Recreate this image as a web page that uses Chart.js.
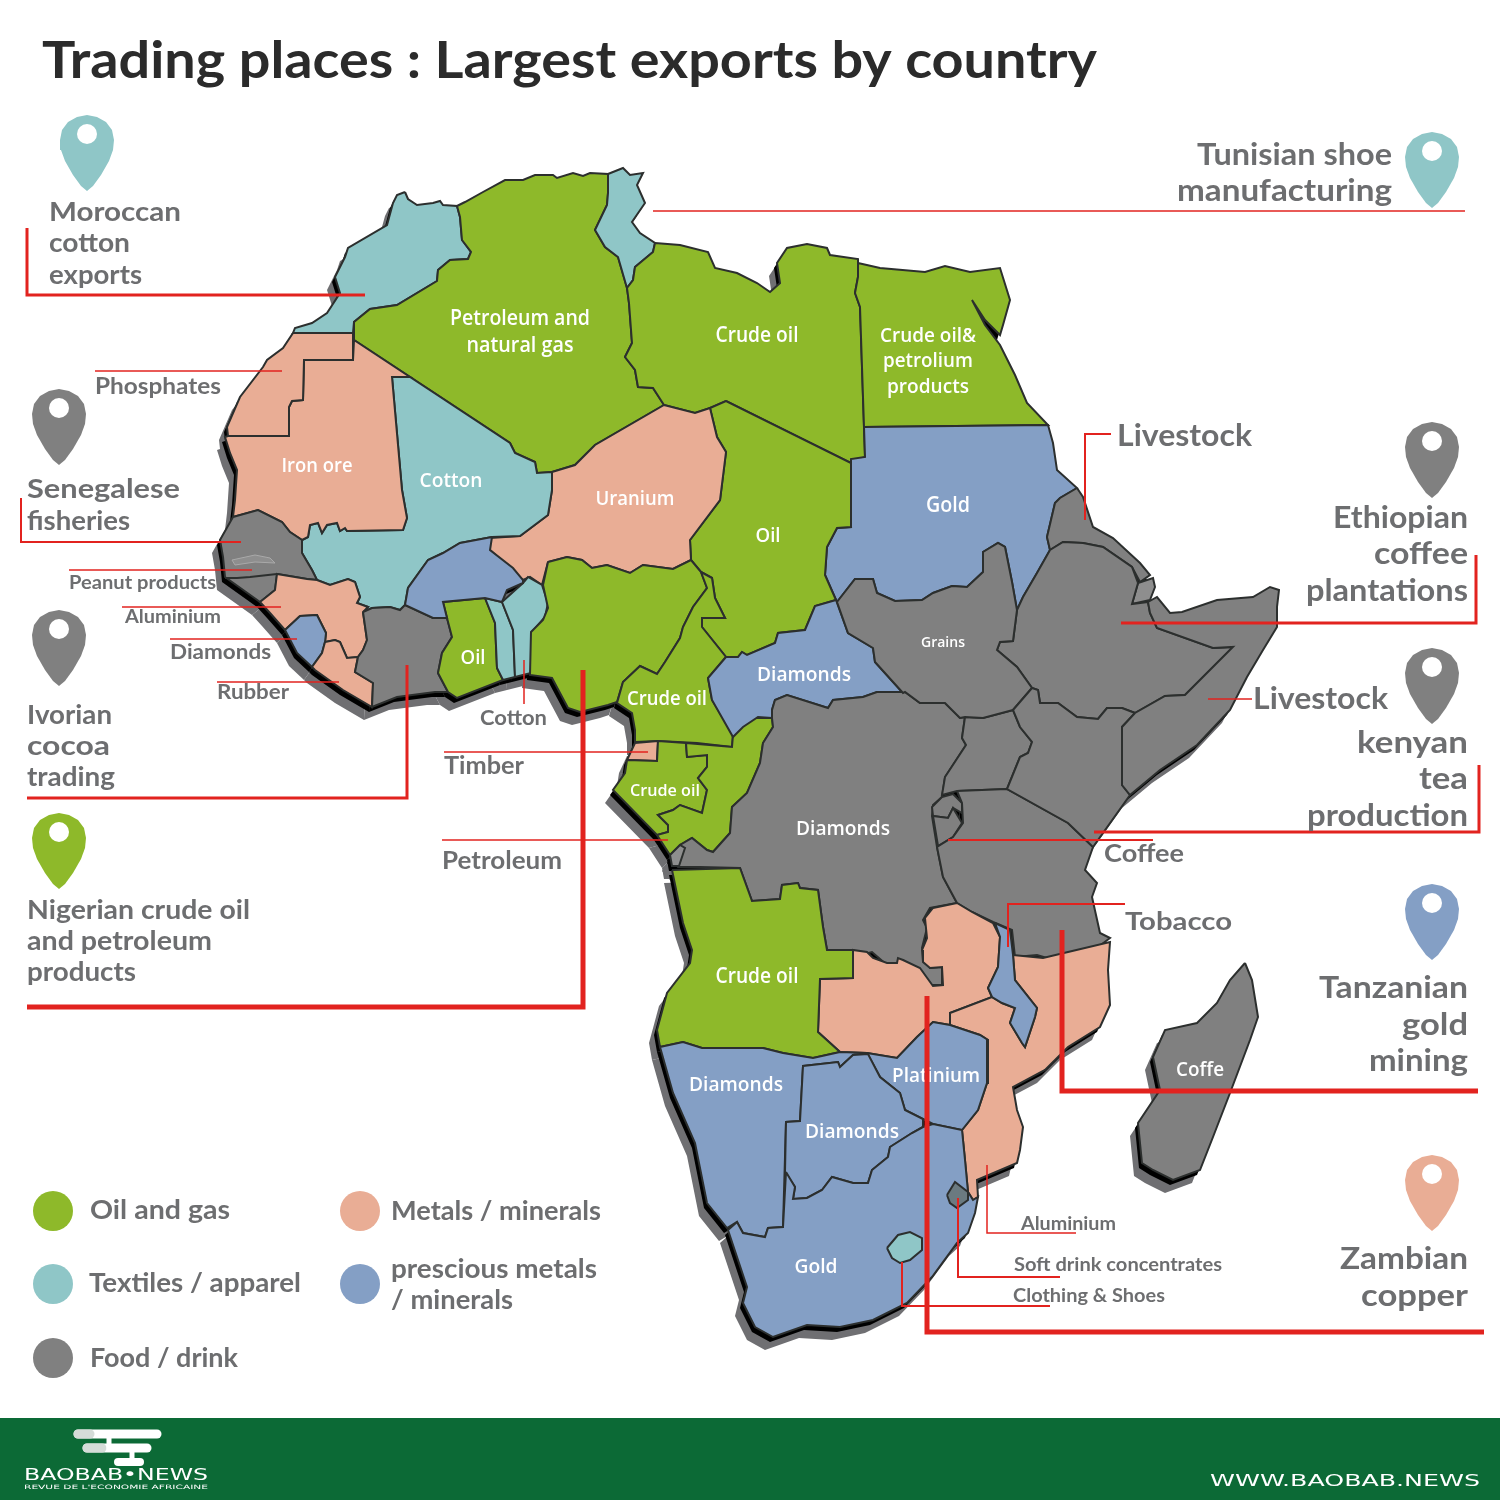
<!DOCTYPE html>
<html>
<head>
<meta charset="utf-8">
<title>Trading places</title>
<script src="https://cdn.jsdelivr.net/npm/chart.js@4"></script>
<style>
  html, body { margin: 0; padding: 0; background: #fff; }
  canvas { display: block; }
</style>
</head>
<body>
<canvas id="myChart" width="1500" height="1500"></canvas>
<script>
// colours
const OIL = "#8eb92a", TEXTILE = "#8fc6c7", METAL = "#e9ad95", PRECIOUS = "#849fc5", FOOD = "#808080", PALE = "#8e8e8e";
const RED = "#e2231f", GREY_TXT = "#6d6e70", BAND = "#0c6a36", BORDER = "#2c2f2e";

// country outlines
const morocco = [[405,192],[408,199],[417,205],[433,203],[440,201],[443,205],[457,206],[460,217],[462,240],[471,252],[468,259],[450,260],[438,270],[437,281],[397,305],[370,309],[354,322],[353,333],[293,333],[295,328],[312,323],[327,313],[340,293],[335,277],[345,257],[348,248],[387,225],[393,203],[397,195]];
const algeria = [[457,206],[465,202],[483,192],[505,180],[523,180],[535,175],[553,175],[557,178],[573,173],[583,176],[590,173],[608,174],[608,193],[607,205],[595,230],[605,247],[618,257],[627,288],[629,303],[632,343],[625,357],[635,370],[638,387],[653,388],[664,405],[595,445],[575,465],[552,472],[537,473],[535,462],[515,453],[510,443],[354,340],[354,322],[370,309],[397,305],[437,281],[438,270],[450,260],[468,259],[471,252],[462,240],[460,217]];
const tunisia = [[608,174],[623,168],[630,175],[643,173],[637,185],[645,203],[632,222],[640,233],[655,243],[653,252],[635,267],[633,280],[627,288],[618,257],[605,247],[595,230],[607,205],[608,193]];
const libya = [[655,243],[680,245],[708,252],[715,268],[737,273],[757,283],[770,292],[780,283],[777,263],[787,248],[807,244],[827,248],[830,255],[858,259],[858,277],[855,293],[860,307],[865,457],[851,463],[726,401],[710,408],[695,413],[664,405],[653,388],[638,387],[635,370],[625,357],[632,343],[629,303],[627,288],[633,280],[635,267],[653,252]];
const egypt = [[858,263],[880,268],[925,272],[945,266],[970,272],[1000,268],[1010,300],[1003,325],[1000,335],[985,320],[972,300],[985,325],[1000,345],[1015,375],[1027,403],[1048,425],[864,427],[860,307],[855,293],[858,277]];
const sudan = [[864,427],[1048,425],[1053,443],[1057,470],[1077,488],[1060,498],[1055,503],[1047,537],[1050,550],[1037,573],[1023,597],[1017,610],[1012,582],[1005,547],[998,543],[983,552],[983,572],[967,587],[952,586],[933,593],[922,600],[895,601],[877,593],[873,579],[855,579],[837,602],[825,575],[827,547],[837,528],[852,527],[851,459],[865,457]];
const chad = [[726,401],[851,463],[851,527],[837,528],[827,547],[825,575],[836,600],[815,606],[805,630],[778,633],[775,643],[747,655],[742,652],[738,657],[726,657],[702,627],[702,618],[725,618],[715,598],[712,578],[701,572],[691,560],[690,540],[720,500],[726,452],[717,437],[710,408]];
const niger = [[664,405],[695,413],[710,408],[717,437],[726,452],[720,500],[690,540],[691,560],[673,569],[643,565],[630,573],[607,565],[592,568],[582,560],[567,557],[548,562],[542,585],[530,577],[523,580],[490,550],[490,538],[520,536],[548,515],[552,490],[552,472],[575,465],[595,445]];
const mali = [[392,377],[410,377],[510,443],[515,453],[535,462],[537,473],[552,472],[552,490],[548,515],[520,536],[492,537],[460,543],[443,553],[428,560],[408,588],[405,605],[400,610],[390,607],[372,608],[363,612],[368,607],[357,603],[360,597],[355,582],[348,579],[330,585],[317,580],[312,570],[302,553],[302,540],[308,537],[310,525],[318,523],[322,533],[327,525],[337,523],[340,531],[345,528],[347,531],[403,530],[407,518],[402,490]];
const mauritania = [[228,436],[289,436],[289,407],[292,401],[303,400],[304,360],[353,360],[354,340],[410,377],[392,377],[402,490],[407,518],[403,530],[347,531],[345,528],[340,531],[337,523],[327,525],[322,533],[318,523],[310,525],[308,537],[302,540],[290,532],[282,522],[258,510],[233,517],[235,500],[237,470],[230,453],[225,437]];
const wSahara = [[293,333],[353,333],[353,360],[304,360],[303,400],[292,401],[289,407],[289,436],[228,436],[227,427],[240,397],[263,367],[267,360],[283,348]];
const senegal = [[233,517],[258,510],[282,522],[290,532],[302,540],[302,553],[312,570],[317,580],[307,579],[277,574],[275,590],[260,602],[253,597],[225,577],[223,557],[220,540]];
const gambia = [[232,560],[255,555],[270,558],[275,563],[255,562],[235,565]];
const guinea = [[277,574],[307,579],[317,580],[330,585],[348,579],[355,582],[360,597],[357,603],[368,607],[363,612],[367,640],[363,650],[358,657],[347,658],[340,642],[335,640],[325,642],[326,633],[317,615],[300,616],[285,630],[270,613],[260,602],[275,590]];
const sierraLeone = [[300,616],[317,615],[326,633],[325,642],[322,653],[312,667],[297,653],[285,630]];
const liberia = [[325,642],[335,640],[340,642],[347,658],[358,657],[355,672],[373,683],[372,707],[343,690],[315,670],[312,667],[322,653]];
const ivoryCoast = [[363,612],[372,608],[390,607],[400,610],[405,605],[433,618],[447,618],[452,637],[442,653],[438,673],[448,692],[435,692],[397,697],[372,707],[373,683],[355,672],[358,657],[363,650],[367,640]];
const ghana = [[443,602],[485,598],[495,623],[497,668],[503,680],[457,698],[448,692],[438,673],[442,653],[452,637],[447,618]];
const togo = [[485,598],[502,602],[513,630],[515,677],[503,680],[497,668],[495,623]];
const benin = [[502,602],[523,583],[528,577],[542,585],[548,603],[545,617],[532,632],[531,673],[515,677],[513,630]];
const burkina = [[492,537],[490,550],[513,568],[523,580],[523,583],[507,590],[502,602],[485,598],[443,602],[447,618],[433,618],[405,605],[408,588],[428,560],[443,553],[460,543]];
const nigeria = [[548,562],[567,557],[582,560],[592,568],[607,565],[630,573],[643,565],[673,569],[691,560],[701,572],[707,588],[693,607],[683,627],[680,638],[665,662],[657,674],[640,666],[623,682],[617,702],[608,705],[580,712],[568,708],[552,678],[530,675],[531,632],[543,620],[548,608],[543,585]];
const cameroon = [[701,572],[712,578],[715,598],[725,618],[702,618],[702,627],[726,657],[708,678],[712,700],[733,735],[732,747],[697,743],[658,741],[635,742],[635,730],[632,713],[617,703],[623,682],[640,666],[657,674],[665,662],[680,638],[683,627],[693,607],[707,588]];
const eqGuinea = [[658,741],[657,761],[627,760],[635,743]];
const gabon = [[627,760],[657,761],[658,741],[686,743],[687,757],[707,755],[707,767],[698,778],[707,790],[702,813],[680,805],[673,810],[658,815],[668,825],[668,832],[657,835],[613,790],[625,773]];
const congo = [[686,743],[732,747],[733,735],[747,718],[772,718],[773,727],[763,743],[760,763],[747,793],[732,807],[730,833],[713,852],[707,850],[692,838],[680,845],[670,855],[657,835],[668,832],[668,825],[658,815],[673,810],[680,805],[702,813],[707,790],[698,778],[707,767],[707,755],[687,757]];
const car = [[726,657],[738,657],[742,652],[747,655],[775,643],[778,633],[805,630],[815,606],[836,600],[848,633],[873,648],[875,662],[903,693],[877,692],[863,697],[833,700],[828,708],[787,695],[775,700],[772,710],[772,718],[758,717],[743,727],[733,737],[712,700],[708,678]];
const drc = [[772,718],[772,710],[775,700],[787,695],[828,708],[833,700],[863,697],[877,692],[905,692],[920,703],[945,703],[960,718],[965,717],[962,738],[966,745],[945,777],[942,797],[933,805],[932,816],[937,847],[943,877],[957,903],[930,908],[923,920],[927,928],[922,948],[930,968],[942,967],[942,985],[930,985],[917,972],[903,960],[897,965],[887,965],[872,952],[860,955],[853,950],[827,950],[823,927],[818,890],[800,888],[798,883],[782,885],[780,899],[752,901],[740,868],[700,867],[678,867],[670,858],[680,845],[692,838],[707,850],[713,852],[730,833],[732,807],[747,793],[760,763],[763,743],[773,727]];
const cabinda = [[670,855],[680,845],[685,848],[679,866],[672,866]];
const uganda = [[965,717],[983,718],[1013,710],[1020,727],[1032,742],[1028,753],[1020,757],[1007,789],[957,791],[942,795],[945,777],[966,745],[962,738]];
const rwanda = [[942,797],[953,794],[962,803],[962,813],[953,808],[948,818],[933,816],[932,807]];
const burundi = [[933,816],[948,818],[953,808],[962,823],[953,837],[938,846]];
const tanzania = [[957,791],[1007,789],[1068,823],[1093,847],[1085,870],[1097,883],[1092,897],[1100,933],[1110,938],[1098,947],[1067,957],[1047,958],[1037,955],[1015,957],[1012,930],[993,922],[972,912],[957,903],[943,877],[937,847],[953,837],[963,823],[962,803]];
const zambia = [[957,903],[933,908],[925,918],[927,938],[922,950],[923,962],[930,968],[942,967],[943,985],[933,986],[920,968],[903,960],[898,958],[897,963],[887,963],[873,958],[867,952],[853,950],[853,978],[820,979],[818,1032],[840,1052],[867,1053],[897,1058],[917,1037],[933,1022],[950,1025],[950,1013],[992,997],[988,988],[998,967],[1000,937],[993,923],[972,912]];
const malawi = [[995,923],[1010,930],[1013,955],[1015,980],[1037,1008],[1035,1017],[1025,1047],[1022,1043],[1010,1023],[1015,1008],[1002,1003],[992,997],[988,988],[998,967],[1000,937]];
const mozambique = [[1013,955],[1043,958],[1068,952],[1110,942],[1108,970],[1110,1005],[1100,1027],[1068,1047],[1045,1070],[1013,1087],[1017,1110],[1023,1127],[1020,1150],[1017,1163],[977,1180],[978,1197],[973,1200],[968,1192],[965,1160],[962,1130],[978,1110],[987,1083],[988,1040],[980,1035],[950,1025],[950,1013],[992,997],[1002,1003],[1015,1008],[1010,1023],[1022,1043],[1025,1047],[1035,1017],[1037,1008],[1015,980]];
const zimbabwe = [[867,1053],[897,1058],[917,1037],[933,1022],[950,1025],[980,1035],[988,1040],[987,1083],[978,1110],[962,1130],[933,1124],[923,1119],[905,1110],[900,1093],[880,1077]];
const angola = [[672,870],[740,868],[752,901],[780,899],[782,885],[798,883],[800,888],[818,890],[823,927],[827,950],[853,950],[853,978],[820,979],[818,1032],[840,1052],[813,1058],[783,1053],[763,1048],[702,1048],[683,1042],[660,1047],[657,1030],[667,993],[690,963],[692,950],[683,923]];
const namibia = [[660,1047],[683,1042],[702,1048],[763,1048],[783,1053],[813,1058],[840,1052],[867,1053],[853,1055],[840,1067],[838,1062],[803,1066],[800,1121],[786,1122],[783,1227],[768,1228],[765,1237],[743,1233],[737,1222],[727,1228],[707,1203],[695,1143],[673,1093]];
const botswana = [[803,1066],[838,1062],[840,1067],[853,1055],[868,1054],[880,1077],[900,1093],[905,1110],[923,1119],[923,1127],[912,1133],[890,1147],[888,1157],[872,1170],[868,1183],[853,1183],[832,1177],[822,1190],[807,1198],[793,1199],[795,1187],[785,1172],[786,1122],[800,1121]];
const southAfrica = [[786,1172],[795,1187],[793,1199],[807,1198],[822,1190],[832,1177],[853,1183],[868,1183],[872,1170],[888,1157],[890,1147],[912,1133],[923,1127],[933,1124],[962,1130],[965,1160],[968,1192],[973,1200],[978,1197],[975,1213],[968,1233],[957,1243],[932,1277],[907,1303],[873,1320],[840,1327],[807,1325],[773,1337],[755,1327],[743,1303],[747,1287],[728,1230],[737,1222],[743,1233],[765,1237],[768,1228],[783,1227]];
const swaziland = [[947,1195],[955,1182],[968,1192],[968,1200],[957,1208],[950,1203]];
const lesotho = [[887,1248],[898,1235],[910,1232],[922,1238],[922,1250],[910,1260],[900,1263],[892,1258]];
const eritrea = [[1077,488],[1083,497],[1093,527],[1113,538],[1140,563],[1150,575],[1140,582],[1132,567],[1103,547],[1083,543],[1063,542],[1050,550],[1047,537],[1055,503],[1060,498]];
const djibouti = [[1138,583],[1153,578],[1155,587],[1150,600],[1132,604]];
const ethiopia = [[1050,550],[1063,542],[1083,543],[1103,547],[1132,567],[1138,583],[1132,604],[1148,602],[1150,613],[1157,628],[1213,648],[1233,647],[1185,695],[1165,696],[1135,713],[1122,708],[1107,708],[1098,719],[1077,717],[1058,703],[1040,703],[1038,690],[1032,688],[1017,667],[997,650],[1000,642],[1013,641],[1017,610],[1023,597],[1037,573]];
const southSudan = [[837,602],[855,579],[873,579],[877,593],[895,601],[922,600],[933,593],[952,586],[967,587],[983,572],[983,552],[998,543],[1005,547],[1012,582],[1017,610],[1013,641],[1000,642],[997,650],[1017,667],[1032,688],[1013,710],[983,718],[965,717],[960,718],[945,703],[920,703],[905,692],[903,693],[875,662],[873,648],[848,633]];
const kenya = [[1032,688],[1038,690],[1040,703],[1058,703],[1077,717],[1098,719],[1107,708],[1122,708],[1135,713],[1122,727],[1122,785],[1130,795],[1093,847],[1068,823],[1007,789],[1020,757],[1028,753],[1032,742],[1020,727],[1013,710]];
const somalia = [[1148,602],[1157,597],[1170,613],[1182,612],[1217,600],[1253,597],[1270,587],[1279,590],[1277,607],[1277,627],[1263,650],[1247,677],[1230,710],[1197,745],[1160,770],[1130,795],[1122,785],[1122,727],[1135,713],[1165,696],[1185,695],[1233,647],[1213,648],[1157,628],[1150,613]];
const madagascar = [[1245,963],[1252,980],[1258,1017],[1250,1040],[1230,1093],[1213,1137],[1200,1170],[1173,1180],[1153,1170],[1142,1163],[1138,1123],[1160,1090],[1153,1057],[1165,1030],[1197,1023],[1217,1003],[1230,980]];
const bissauBorder = [[225,578],[237,578],[250,577],[277,574]];

const regions = [
  [morocco,TEXTILE],[algeria,OIL],[tunisia,TEXTILE],[libya,OIL],[egypt,OIL],[sudan,PRECIOUS],[chad,OIL],[niger,METAL],[mali,TEXTILE],
  [mauritania,METAL],[wSahara,METAL],[senegal,FOOD],[guinea,METAL],[sierraLeone,PRECIOUS],[liberia,METAL],[ivoryCoast,FOOD],
  [ghana,OIL],[togo,TEXTILE],[benin,TEXTILE],[burkina,PRECIOUS],[nigeria,OIL],[cameroon,OIL],[eqGuinea,METAL],[gabon,OIL],[congo,OIL],[car,PRECIOUS],
  [drc,FOOD],[cabinda,PALE],[uganda,FOOD],[rwanda,FOOD],[burundi,FOOD],[tanzania,FOOD],[zambia,METAL],[mozambique,METAL],[malawi,PRECIOUS],[zimbabwe,PRECIOUS],
  [angola,OIL],[namibia,PRECIOUS],[botswana,PRECIOUS],[southAfrica,PRECIOUS],[swaziland,"#6b7a80"],[lesotho,TEXTILE],[eritrea,FOOD],[djibouti,PALE],
  [ethiopia,FOOD],[southSudan,FOOD],[kenya,FOOD],[somalia,FOOD],[madagascar,FOOD]
];

// leader lines
const leaders = [
  [[[27,228],[27,295],[365,295]],3],[[[653,211],[1465,211]],1.5],[[[95,371],[282,371]],1.5],[[[21,498],[21,542],[241,542]],2],
  [[[69,570],[252,570]],1.5],[[[122,607],[281,607]],1.5],[[[170,639],[297,639]],1.5],[[[217,682],[339,682]],1.5],
  [[[27,798],[407,798],[407,665]],3],[[[524,660],[524,704]],1.5],[[[444,752],[648,752]],1.5],[[[442,840],[668,840]],1.5],
  [[[27,1007],[583,1007],[583,670]],5],[[[1111,434],[1085,434],[1085,520]],2],[[[1121,623],[1476,623],[1476,555]],3],[[[1208,699],[1252,699]],1.5],
  [[[1094,832],[1479,832],[1479,765]],3],[[[948,840],[1153,840]],2],[[[1125,904],[1008,904],[1008,947]],2],[[[1062,930],[1062,1091],[1478,1091]],5],
  [[[927,996],[927,1332],[1484,1332]],5],[[[987,1165],[987,1233],[1076,1233]],1.5],[[[958,1198],[958,1277],[1060,1277]],2],[[[902,1262],[902,1306],[1050,1306]],2]
];

// pins and legend
const pinOutline = [[0,0],[10,2],[19,7],[25,15],[27,25],[26,35],[22,46],[14,60],[6,71],[0,76],[-6,71],[-14,60],[-22,46],[-26,35],[-27,25],[-25,15],[-19,7],[-10,2]];
const pins = [[87,115,TEXTILE],[1432,132,TEXTILE],[59,389,FOOD],[1432,422,FOOD],[59,610,FOOD],[1432,648,FOOD],[59,813,OIL],[1432,884,PRECIOUS],[1432,1155,METAL]];
const legendDots = [[53,1211,OIL],[53,1284,TEXTILE],[53,1358,FOOD],[360,1211,METAL],[360,1284,PRECIOUS]];

// logo bars
const band = [[0,1418],[1500,1418],[1500,1500],[0,1500]];
const logoBars = [[[78,1434],[157,1434],"#fff",9],[[78,1434],[90,1434],"#d5dcd8",9],[[87,1448],[147,1448],"#fff",9],[[87,1448],[102,1448],"#d5dcd8",9],[[118,1462],[140,1462],"#fff",8],[[109,1434],[109,1448],"#fff",5],[[132,1448],[132,1462],"#fff",5]];

// text: string, x, y, size, align, width on the picture
const titleText = [["Trading places : Largest exports by country",42,61,52,"left",1055]];
const sideText = [
  ["Moroccan",49,212,27,"left",132],["cotton",49,243,27,"left",81],["exports",49,275,27,"left",93],["Phosphates",95,387,23,"left",126],
  ["Senegalese",27,489,27,"left",153],["fisheries",27,521,27,"left",103],["Peanut products",69,583,19,"left",147],["Aluminium",125,617,19,"left",96],
  ["Diamonds",170,652,21,"left",101],["Rubber",217,693,20,"left",72],["Ivorian",27,715,27,"left",85],["cocoa",27,746,27,"left",83],["trading",27,777,27,"left",88],
  ["Nigerian crude oil",27,910,27,"left",223],["and petroleum",27,941,27,"left",185],["products",27,972,27,"left",109],["Cotton",480,718,21,"left",67],
  ["Timber",444,766,25,"left",80],["Petroleum",442,861,25,"left",120],["Tunisian shoe",1392,155,31,"right",195],["manufacturing",1392,191,31,"right",215],
  ["Livestock",1117,436,31,"left",135],["Ethiopian",1468,518,31,"right",135],["coffee",1468,554,31,"right",94],["plantations",1468,591,31,"right",162],
  ["Livestock",1253,699,31,"left",135],["kenyan",1468,743,31,"right",111],["tea",1468,779,31,"right",49],["production",1468,816,31,"right",161],
  ["Coffee",1104,854,25,"left",80],["Tobacco",1125,922,25,"left",107],["Tanzanian",1468,988,31,"right",149],["gold",1468,1025,31,"right",66],["mining",1468,1061,31,"right",99],
  ["Zambian",1468,1259,31,"right",128],["copper",1468,1296,31,"right",107],["Aluminium",1021,1224,19,"left",95],["Soft drink concentrates",1014,1265,19,"left",208],["Clothing & Shoes",1013,1296,19,"left",152],
  ["Oil and gas",90,1210,27,"left",140],["Textiles / apparel",89,1283,27,"left",212],["Food / drink",90,1358,27,"left",148],
  ["Metals / minerals",391,1211,27,"left",210],["prescious metals",391,1269,27,"left",206],["/ minerals",391,1300,27,"left",122]
];
const mapText = [
  ["Petroleum and",520,319,21,"center",140],["natural gas",520,346,21,"center",107],["Crude oil",757,336,21,"center",83],["Crude oil&",928,336,20,"center",96],["petrolium",928,361,20,"center",90],["products",928,387,20,"center",82],
  ["Iron ore",317,466,20,"center",71],["Cotton",451,481,20,"center",63],["Uranium",635,499,20,"center",79],["Oil",768,536,20,"center",25],["Gold",948,506,21,"center",44],["Grains",943,643,15,"center",44],["Oil",473,658,20,"center",25],
  ["Diamonds",804,675,20,"center",94],["Crude oil",667,699,20,"center",80],["Crude oil",665,791,17,"center",70],["Diamonds",843,829,20,"center",94],["Crude oil",757,977,21,"center",83],["Coffe",1200,1070,20,"center",48],
  ["Diamonds",736,1085,20,"center",94],["Platinium",936,1076,20,"center",88],["Diamonds",852,1132,20,"center",94],["Gold",816,1267,20,"center",43]
];
const footerText = [
  ["BAOBAB•NEWS",24,1476,15,"left",184],["REVUE DE L'ECONOMIE AFRICAINE",24,1487,6,"left",184],["WWW.BAOBAB.NEWS",1480,1482,16,"right",270]
];

const toPts = a => a.map(p => ({x: p[0], y: p[1]}));
const closed = a => toPts(a.concat([a[0]]));
const shifted = (a, dx, dy) => a.map(p => [p[0] + dx, p[1] + dy]);

// bottom to top, reversed at the end because chart.js draws the first dataset on top
const layers = [];
const poly = (a, color, stroke, w) => layers.push({data: closed(a), showLine: true, fill: "shape", backgroundColor: color, borderColor: stroke || color, borderWidth: w || 0, pointRadius: 0, tension: 0});
const line = (a, color, w, cap) => layers.push({data: toPts(a), showLine: true, fill: false, borderColor: color, borderWidth: w, pointRadius: 0, tension: 0, borderCapStyle: cap || "butt", borderJoinStyle: "miter"});

poly(band, BAND);
regions.forEach(r => poly(shifted(r[0], -8, 13), "#6f6f72"));
regions.forEach(r => poly(shifted(r[0], -3, 5), "#000000"));
regions.forEach(r => poly(r[0], r[1], BORDER, 2));
poly(gambia, PALE, "#a9a9a9", 1);
line(bissauBorder, BORDER, 2);
const firstLine = layers.length;
leaders.forEach(l => line(l[0], RED, l[1]));
pins.forEach(p => poly(pinOutline.map(q => [q[0] + p[0], q[1] + p[1]]), p[2]));
logoBars.forEach(b => line([b[0], b[1]], b[2], b[3], "round"));
layers.push({data: toPts(pins.map(p => [p[0], p[1] + 19])), showLine: false, pointRadius: 10, pointBackgroundColor: "#fff", pointBorderWidth: 0});
layers.push({data: toPts(legendDots), showLine: false, pointRadius: 20, pointBackgroundColor: legendDots.map(d => d[2]), pointBorderWidth: 0});

// writes a label squeezed or stretched to the width it has on the picture
function put(chart, t, font, color) {
  const ctx = chart.ctx;
  ctx.save();
  ctx.font = font;
  ctx.fillStyle = color;
  ctx.textAlign = t[4];
  ctx.textBaseline = "middle";
  ctx.translate(chart.scales.x.getPixelForValue(t[1]), chart.scales.y.getPixelForValue(t[2]));
  ctx.scale(t[5] / ctx.measureText(t[0]).width, 1);
  ctx.fillText(t[0], 0, 0);
  ctx.restore();
}

const total = layers.length;
const labelPlugin = {
  id: "labels",
  beforeDatasetDraw(chart, args) {
    // map names sit under the red lines
    if (args.index === total - 1 - firstLine) {
      mapText.forEach(t => put(chart, t, "600 " + t[3] + "px 'Open Sans'", "#fff"));
    }
  },
  afterDatasetsDraw(chart) {
    titleText.forEach(t => put(chart, t, "bold " + t[3] + "px Lato", "#2b2b2b"));
    sideText.forEach(t => put(chart, t, "bold " + t[3] + "px Lato", GREY_TXT));
    footerText.forEach(t => put(chart, t, "500 " + t[3] + "px 'DejaVu Sans'", "#fff"));
  }
};

new Chart("myChart", {
  type: "scatter",
  data: {datasets: layers.slice().reverse()},
  options: {
    responsive: false,
    animation: false,
    devicePixelRatio: 1,
    layout: {padding: 0, autoPadding: false},
    plugins: {legend: {display: false}, tooltip: {enabled: false}},
    scales: {
      x: {type: "linear", min: 0, max: 1500, display: false},
      y: {type: "linear", min: 0, max: 1500, reverse: true, display: false}
    }
  },
  plugins: [labelPlugin]
});
</script>
</body>
</html>
